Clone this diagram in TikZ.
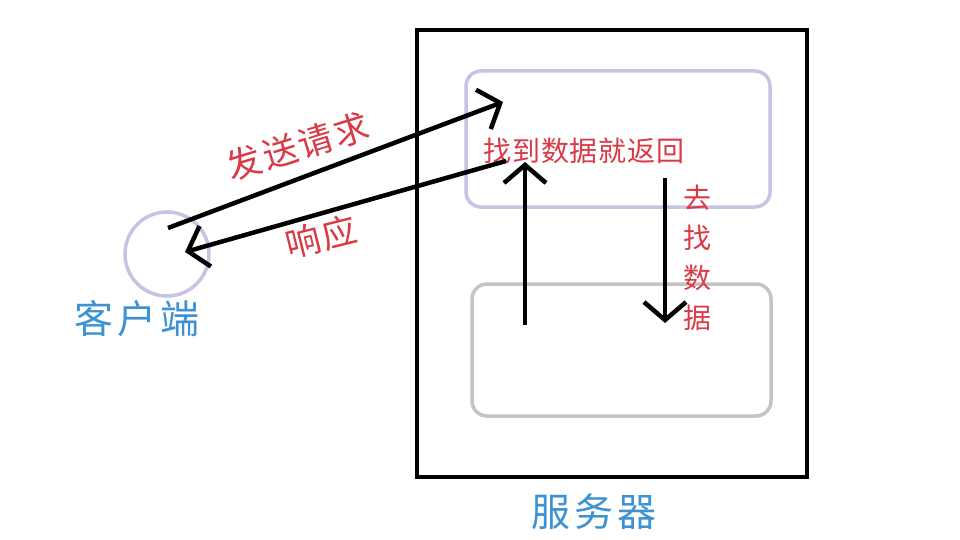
\documentclass[tikz,border=0pt]{standalone}
\usepackage{fontspec}
\setmainfont{Noto Sans CJK SC}
\usetikzlibrary{arrows.meta}
\definecolor{lav}{HTML}{C6C3E3}
\definecolor{greybox}{HTML}{C4C4C4}
\definecolor{redtxt}{HTML}{D93A45}
\definecolor{bluetxt}{HTML}{3C92D2}
\tikzset{
  conn/.style={line width=4.5pt, black, -{Straight Barb[length=18pt,width=42pt,line width=4.5pt]}},
  redlabel/.style={text=redtxt, inner sep=0pt},
  bluelabel/.style={text=bluetxt, inner sep=0pt, font=\fontsize{39}{40}\selectfont\addfontfeature{LetterSpace=10}},
}
\begin{document}
\begin{tikzpicture}[x=1pt,y=-1pt]
\useasboundingbox (0,0) rectangle (960,540);
\fill[white] (0,0) rectangle (960,540);
% server
\node[draw=black, line width=4pt, minimum width=390pt, minimum height=447pt, inner sep=0pt] (server) at (612,253.5) {};
\node[draw=lav, line width=3.5pt, rounded corners=15pt, minimum width=304pt, minimum height=136pt, inner sep=0pt] (upper) at (618,139) {};
\node[draw=greybox, line width=3.5pt, rounded corners=15pt, minimum width=299pt, minimum height=132pt, inner sep=0pt] (lower) at (621.5,350) {};
% client
\node[draw=lav, line width=3.5pt, circle, minimum size=84pt, inner sep=0pt] (client) at (167,254) {};
\node[bluelabel] (clientlbl) at (137,319) {客户端};
\node[bluelabel] (serverlbl) at (594,512) {服务器};
% labels
\node[redlabel, rotate=17, font=\fontsize{35}{36}\selectfont\addfontfeature{LetterSpace=6}] (send) at (298,146) {发送请求};
\node[redlabel, rotate=14, font=\fontsize{35}{36}\selectfont\addfontfeature{LetterSpace=6}] (resp) at (321,237) {响应};
\node[redlabel, font=\fontsize{28}{30}\selectfont\addfontfeature{LetterSpace=3}] (found) at (584,151) {找到数据就返回};
\node[redlabel, font=\fontsize{28}{40}\selectfont, align=center] (go) at (697,258) {去\\找\\数\\据};
% connector endpoints
\coordinate (sendA) at (168,228);
\coordinate (sendB) at (503,102);
\coordinate (respA) at (506,161);
\coordinate (respB) at (185,252);
\coordinate (upA) at (525,325);
\coordinate (upB) at (525,162);
\coordinate (dnA) at (665,178);
\coordinate (dnB) at (665,323);
\draw[conn] (sendA) -- (sendB);
\draw[conn] (respA) -- (respB);
\draw[conn] (upA) -- (upB);
\draw[conn] (dnA) -- (dnB);
\end{tikzpicture}
\end{document}
